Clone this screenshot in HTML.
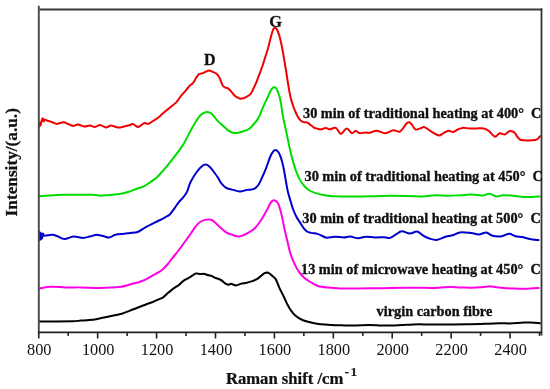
<!DOCTYPE html>
<html><head><meta charset="utf-8"><style>
html,body{margin:0;padding:0;background:#fff;}
svg{display:block;}
</style></head><body>
<svg width="550" height="389" viewBox="0 0 550 389">
<g fill="none" stroke-width="2" stroke-linejoin="round" stroke-linecap="round">
<path d="M39.2 126.5 C39.3 125.8 39.6 122.7 39.8 122.5 C40.0 122.3 40.2 125.7 40.5 125.5 C40.8 125.3 41.1 122.7 41.5 121.5 C41.9 120.3 42.3 118.5 42.6 118.3 C42.9 118.1 43.1 120.0 43.3 120.5 C43.5 121.0 43.6 121.5 43.9 121.3 C44.1 121.1 44.4 119.8 44.8 119.6 C45.2 119.4 45.4 119.9 46.3 120.2 C47.2 120.5 49.0 121.1 50.0 121.4 C51.0 121.8 51.4 121.9 52.5 122.3 C53.6 122.7 55.6 123.8 56.8 123.9 C58.0 124.0 58.7 123.3 59.9 123.0 C61.1 122.7 62.6 122.0 64.0 122.2 C65.3 122.4 66.5 123.4 68.0 124.0 C69.5 124.6 71.3 125.9 73.0 126.0 C74.7 126.1 76.2 124.3 78.0 124.4 C79.8 124.5 82.0 126.3 84.0 126.5 C86.0 126.7 88.2 125.5 90.0 125.6 C91.8 125.7 93.3 127.1 95.0 127.0 C96.7 126.9 98.2 124.9 100.0 125.0 C101.8 125.1 104.2 127.4 106.0 127.5 C107.8 127.6 109.0 125.5 111.0 125.5 C113.0 125.5 115.8 127.3 118.0 127.5 C120.2 127.7 122.0 126.9 124.0 126.5 C126.0 126.1 128.5 125.4 130.0 125.0 C131.5 124.6 131.7 123.7 133.0 124.0 C134.3 124.3 136.2 127.1 138.0 127.0 C139.8 126.9 142.2 123.8 143.9 123.2 C145.7 122.7 147.0 124.1 148.5 123.7 C150.0 123.3 151.5 122.0 153.0 121.0 C154.5 120.0 156.1 119.2 157.7 118.0 C159.2 116.8 160.8 115.3 162.3 114.0 C163.9 112.7 165.5 111.2 167.0 109.9 C168.5 108.7 169.9 107.7 171.3 106.5 C172.8 105.3 174.5 104.1 175.7 102.9 C176.9 101.7 177.6 100.7 178.5 99.5 C179.4 98.3 179.7 97.5 180.9 96.0 C182.1 94.5 184.0 92.5 185.5 90.8 C187.0 89.1 188.5 86.9 189.8 85.6 C191.1 84.3 192.0 84.3 193.1 82.9 C194.2 81.5 195.4 78.9 196.4 77.4 C197.4 76.0 198.0 74.9 199.1 74.2 C200.2 73.5 201.7 73.5 202.9 73.1 C204.1 72.6 205.1 71.9 206.2 71.5 C207.2 71.1 208.1 70.5 209.2 70.6 C210.3 70.6 211.4 71.2 212.7 71.8 C214.0 72.4 215.9 73.1 217.1 74.2 C218.3 75.3 218.9 76.7 219.8 78.5 C220.7 80.3 221.7 83.6 222.5 85.1 C223.3 86.6 223.8 86.8 224.7 87.3 C225.6 87.8 226.9 87.7 228.0 88.4 C229.1 89.1 230.2 90.4 231.3 91.6 C232.4 92.8 233.2 94.3 234.5 95.4 C235.8 96.5 237.7 97.7 238.9 98.2 C240.2 98.7 241.0 98.7 242.0 98.6 C243.0 98.5 243.6 98.3 245.0 97.6 C246.4 96.8 249.0 95.6 250.4 94.1 C251.8 92.6 252.5 90.6 253.5 88.5 C254.5 86.4 255.6 84.2 256.6 81.7 C257.6 79.2 258.7 76.2 259.7 73.5 C260.7 70.8 261.8 68.0 262.7 65.3 C263.6 62.5 264.4 59.8 265.3 57.0 C266.2 54.2 266.9 52.2 267.9 48.8 C268.8 45.4 270.2 39.5 271.0 36.5 C271.8 33.5 272.1 32.4 272.6 31.0 C273.1 29.6 273.5 28.4 274.1 28.0 C274.8 27.6 275.6 27.7 276.5 28.9 C277.4 30.1 278.4 33.0 279.2 35.2 C279.9 37.5 280.4 39.7 281.0 42.4 C281.6 45.1 282.2 48.3 282.8 51.4 C283.4 54.5 283.9 58.1 284.4 61.0 C284.9 63.9 285.2 65.6 285.8 69.0 C286.4 72.4 286.9 76.9 287.7 81.5 C288.5 86.1 289.4 92.5 290.4 96.7 C291.4 101.0 292.5 104.1 293.5 107.0 C294.5 109.9 295.6 112.1 296.6 114.2 C297.6 116.3 298.6 118.1 299.6 119.4 C300.6 120.7 301.5 121.3 302.7 121.8 C303.9 122.3 305.6 122.0 306.8 122.4 C308.0 122.9 308.7 123.6 309.9 124.5 C311.1 125.4 312.9 126.9 314.0 127.6 C315.1 128.2 315.1 128.1 316.3 128.4 C317.5 128.7 319.4 129.6 321.0 129.5 C322.6 129.4 324.2 127.9 325.7 127.9 C327.2 127.9 328.3 129.3 330.0 129.3 C331.7 129.3 334.0 127.0 335.8 127.8 C337.6 128.6 339.1 133.8 340.9 133.9 C342.7 134.0 344.9 128.5 346.7 128.4 C348.5 128.3 350.3 132.8 351.8 133.2 C353.3 133.6 354.2 131.0 355.5 131.0 C356.8 131.0 358.2 132.9 359.8 133.2 C361.4 133.4 363.2 132.6 364.9 132.5 C366.6 132.4 368.1 133.0 370.0 132.7 C371.9 132.4 373.9 130.6 376.5 130.7 C379.1 130.8 382.5 133.3 385.3 133.2 C388.1 133.1 390.9 130.6 393.3 130.3 C395.7 130.1 398.0 132.3 399.8 131.7 C401.6 131.1 403.0 128.0 404.2 126.6 C405.4 125.1 406.2 123.7 407.1 123.0 C408.0 122.3 408.5 122.0 409.3 122.3 C410.1 122.6 410.9 123.6 412.0 124.8 C413.1 126.0 414.2 128.9 415.6 129.5 C417.0 130.1 418.8 128.8 420.3 128.4 C421.8 128.0 422.8 126.6 424.7 127.2 C426.6 127.8 429.4 130.5 431.8 131.9 C434.2 133.3 436.9 135.3 438.9 135.5 C440.9 135.7 442.0 133.9 443.6 133.1 C445.2 132.3 446.8 130.9 448.4 130.7 C450.0 130.5 451.5 132.1 453.1 131.9 C454.7 131.7 456.2 130.2 457.8 129.5 C459.4 128.8 460.6 128.1 462.6 127.9 C464.6 127.7 467.2 128.3 469.6 128.4 C472.0 128.5 474.3 128.4 476.7 128.4 C479.1 128.4 481.8 128.0 483.8 128.4 C485.8 128.8 487.0 129.5 488.6 130.7 C490.2 131.9 492.1 134.5 493.3 135.5 C494.5 136.5 494.6 137.0 495.7 136.6 C496.8 136.2 498.2 133.7 499.7 133.3 C501.2 133.0 503.2 134.7 504.6 134.5 C506.0 134.3 507.0 132.6 508.0 132.0 C509.0 131.4 509.5 131.0 510.6 131.1 C511.7 131.2 513.2 131.6 514.4 132.6 C515.6 133.6 516.6 136.0 517.7 137.2 C518.8 138.4 519.2 139.5 521.0 140.0 C522.8 140.5 526.2 140.4 528.6 140.4 C531.0 140.4 533.6 140.3 535.2 140.0 C536.8 139.7 537.4 139.1 538.2 138.5 C539.0 137.9 539.7 136.6 540.0 136.2" stroke="#f00000"/>
<path d="M39.0 196.5 C39.5 196.4 40.5 196.2 42.3 196.0 C44.0 195.8 45.9 195.6 49.5 195.4 C53.1 195.2 59.2 194.9 64.1 194.8 C68.9 194.7 73.8 194.8 78.6 194.8 C83.4 194.8 89.5 194.7 93.2 194.8 C96.9 195.0 97.8 195.7 100.5 195.7 C103.2 195.7 106.1 195.2 109.5 194.9 C112.9 194.6 117.6 194.3 120.9 193.8 C124.2 193.3 126.6 192.5 129.1 191.7 C131.5 190.9 133.1 190.1 135.6 189.2 C138.1 188.3 141.4 187.5 143.8 186.3 C146.2 185.2 148.3 183.4 150.0 182.3 C151.7 181.2 152.5 180.7 153.9 179.6 C155.3 178.5 156.1 178.2 158.2 176.0 C160.3 173.8 163.8 170.0 166.5 166.7 C169.2 163.4 172.0 160.0 174.7 156.4 C177.4 152.8 180.3 149.2 182.9 145.1 C185.5 141.0 188.0 135.5 190.1 131.7 C192.2 127.9 193.6 125.2 195.3 122.5 C197.0 119.8 198.7 117.0 200.4 115.3 C202.1 113.6 203.9 112.6 205.6 112.2 C207.2 111.8 209.0 112.3 210.3 112.9 C211.6 113.5 212.3 114.7 213.4 115.9 C214.5 117.1 215.8 118.8 217.0 120.1 C218.2 121.4 219.3 122.5 220.6 123.7 C221.9 124.9 223.3 126.1 224.7 127.3 C226.1 128.5 227.4 130.0 228.8 130.9 C230.2 131.8 231.5 132.4 232.9 132.7 C234.3 133.0 235.3 133.1 237.0 132.9 C238.7 132.7 241.8 131.8 243.2 131.4 C244.6 131.0 244.4 130.9 245.3 130.6 C246.2 130.2 247.4 130.0 248.4 129.3 C249.4 128.7 250.5 127.7 251.5 126.7 C252.5 125.7 253.6 124.2 254.5 123.1 C255.4 122.0 256.2 121.4 257.1 120.1 C258.0 118.8 258.9 117.2 259.7 115.4 C260.5 113.6 261.3 111.3 262.2 109.3 C263.1 107.2 264.1 104.7 264.8 103.1 C265.5 101.5 265.8 101.1 266.6 99.5 C267.4 97.9 268.5 95.2 269.4 93.4 C270.3 91.6 271.2 89.7 272.0 88.7 C272.8 87.7 273.3 87.3 274.0 87.2 C274.7 87.1 275.4 87.4 276.1 88.2 C276.8 89.0 277.5 90.8 278.1 92.3 C278.7 93.8 279.2 95.4 279.7 97.5 C280.2 99.6 280.7 101.8 281.2 104.7 C281.7 107.6 282.0 111.2 282.7 115.0 C283.4 118.8 284.4 123.2 285.3 127.3 C286.2 131.4 287.1 135.9 287.9 139.7 C288.7 143.5 289.3 146.6 290.1 150.0 C290.9 153.4 291.7 156.9 292.7 160.3 C293.7 163.7 294.7 167.4 295.9 170.6 C297.1 173.8 298.4 177.0 299.8 179.6 C301.2 182.2 302.7 184.2 304.3 186.0 C305.9 187.8 307.5 189.3 309.4 190.5 C311.3 191.7 313.2 192.3 315.8 193.1 C318.4 193.9 322.1 194.8 325.0 195.3 C327.9 195.8 327.8 196.0 333.0 196.2 C338.2 196.4 348.3 196.4 356.4 196.4 C364.5 196.4 373.3 196.0 381.8 195.9 C390.3 195.8 400.5 195.9 407.3 196.0 C414.1 196.1 418.0 196.6 422.7 196.5 C427.4 196.4 431.1 195.3 435.4 195.2 C439.6 195.1 443.9 195.8 448.2 195.8 C452.4 195.8 457.3 195.4 460.9 195.2 C464.5 195.0 467.3 194.6 470.0 194.6 C472.7 194.6 475.1 194.9 477.3 195.0 C479.5 195.1 481.1 195.6 483.1 195.4 C485.2 195.2 487.4 193.5 489.6 193.7 C491.8 193.9 494.0 196.1 496.2 196.4 C498.4 196.7 500.2 195.5 502.7 195.3 C505.2 195.2 507.4 195.2 511.0 195.5 C514.6 195.8 521.0 196.8 524.5 197.0 C528.0 197.2 529.6 197.1 532.1 197.0 C534.6 196.9 538.5 196.5 539.8 196.4" stroke="#00dc00"/>
<path d="M38.9 231.5 C39.0 232.9 39.1 239.8 39.3 240.0 C39.5 240.2 39.8 232.6 40.0 232.5 C40.2 232.4 40.4 239.3 40.6 239.5 C40.8 239.7 41.1 233.7 41.3 233.5 C41.5 233.3 41.7 238.3 41.9 238.5 C42.1 238.7 42.4 235.3 42.6 234.5 C42.8 233.7 43.0 233.4 43.2 233.6 C43.4 233.8 43.5 235.3 44.0 235.6 C44.5 235.9 44.9 235.5 46.3 235.4 C47.7 235.3 50.6 234.7 52.5 234.8 C54.4 235.0 55.5 235.6 57.5 236.3 C59.5 237.0 61.7 239.1 64.4 239.1 C67.1 239.1 70.5 236.8 73.6 236.6 C76.7 236.4 80.1 237.9 82.9 237.9 C85.7 237.9 88.3 236.8 90.6 236.3 C92.9 235.8 94.7 234.9 96.8 234.8 C98.9 234.8 100.9 235.6 103.0 236.0 C105.1 236.4 107.1 237.7 109.2 237.5 C111.3 237.3 112.8 235.4 115.4 234.8 C118.0 234.2 122.2 234.1 124.6 233.8 C127.0 233.5 127.8 233.2 130.0 232.9 C132.2 232.6 135.1 232.9 137.7 232.0 C140.3 231.1 142.4 229.0 145.4 227.3 C148.4 225.7 152.5 223.7 155.7 222.1 C158.9 220.5 162.3 218.9 164.7 217.6 C167.0 216.3 168.2 215.9 169.8 214.4 C171.4 212.9 172.8 210.6 174.3 208.6 C175.8 206.6 177.2 204.2 178.8 202.2 C180.4 200.2 182.6 198.2 184.0 196.4 C185.4 194.6 186.1 193.7 187.2 191.3 C188.3 188.9 189.0 185.2 190.6 182.0 C192.2 178.8 194.8 174.6 196.7 172.0 C198.6 169.4 200.4 167.4 201.9 166.2 C203.4 165.0 204.2 164.6 205.4 164.6 C206.6 164.6 207.8 165.1 209.1 166.2 C210.4 167.3 211.7 169.0 213.2 171.0 C214.7 173.0 217.1 176.2 218.3 178.1 C219.5 180.0 219.4 180.8 220.6 182.4 C221.8 184.0 223.8 186.4 225.7 187.6 C227.6 188.8 229.8 189.0 232.1 189.6 C234.4 190.2 237.4 191.3 239.8 191.4 C242.2 191.5 244.6 190.4 246.3 190.1 C248.0 189.8 248.6 189.9 250.0 189.7 C251.4 189.4 253.2 189.4 254.6 188.6 C256.0 187.8 257.2 186.7 258.5 184.8 C259.8 182.9 261.0 179.8 262.3 177.0 C263.6 174.2 264.9 171.1 266.2 167.8 C267.5 164.5 269.0 159.7 270.1 157.0 C271.2 154.3 272.2 152.8 273.1 151.6 C274.0 150.4 274.6 149.9 275.5 150.0 C276.4 150.1 277.6 151.0 278.5 152.3 C279.4 153.6 280.1 155.4 280.9 157.7 C281.7 160.0 282.4 162.7 283.2 166.2 C284.0 169.7 284.8 174.6 285.5 178.6 C286.2 182.6 286.8 186.7 287.5 190.0 C288.2 193.3 288.9 195.5 289.8 198.6 C290.7 201.7 291.7 205.5 292.8 208.5 C293.9 211.5 295.1 214.3 296.4 216.7 C297.6 219.1 299.1 221.0 300.3 222.9 C301.5 224.8 302.7 226.9 303.8 228.3 C304.9 229.7 305.7 230.7 307.0 231.5 C308.3 232.3 309.9 232.5 311.6 232.9 C313.4 233.3 315.8 233.4 317.5 233.9 C319.2 234.4 320.2 235.2 321.8 235.8 C323.4 236.4 324.7 237.5 326.9 237.7 C329.1 237.8 332.1 236.8 334.9 236.7 C337.7 236.6 341.1 237.4 343.6 237.4 C346.2 237.4 347.8 236.3 350.2 236.5 C352.6 236.7 355.6 238.3 358.2 238.3 C360.8 238.3 362.7 236.8 365.5 236.7 C368.3 236.5 371.8 237.3 375.0 237.4 C378.2 237.5 382.1 237.2 384.6 237.3 C387.1 237.4 388.3 238.4 390.2 237.9 C392.1 237.4 394.1 235.5 396.0 234.4 C397.9 233.3 399.5 231.3 401.8 231.2 C404.1 231.0 407.2 233.4 409.8 233.5 C412.4 233.6 414.8 231.2 417.1 231.6 C419.4 232.0 421.5 234.7 423.6 235.8 C425.7 237.0 427.3 237.8 429.5 238.5 C431.7 239.2 434.0 240.2 436.7 239.9 C439.4 239.6 442.8 237.5 445.5 236.7 C448.2 235.9 450.3 236.0 452.7 235.3 C455.1 234.6 456.9 232.8 460.0 232.4 C463.1 232.0 468.0 232.7 471.1 233.0 C474.2 233.3 476.2 234.6 478.7 234.5 C481.2 234.4 484.0 232.3 486.3 232.5 C488.6 232.7 490.1 235.2 492.7 235.8 C495.2 236.4 498.9 236.6 501.6 236.3 C504.4 236.0 506.9 233.8 509.2 233.8 C511.5 233.8 513.5 235.8 515.6 236.3 C517.7 236.9 519.7 236.7 522.0 237.1 C524.3 237.5 526.9 238.4 529.6 238.9 C532.4 239.4 537.0 239.9 538.5 240.1" stroke="#0000cd"/>
<path d="M39.6 288.3 C41.4 288.1 46.1 287.0 50.5 286.8 C54.9 286.6 60.8 287.3 65.9 287.4 C71.1 287.5 76.2 287.3 81.4 287.4 C86.6 287.5 91.7 288.0 96.8 288.0 C101.9 288.0 108.2 287.6 112.3 287.4 C116.4 287.2 118.5 287.3 121.6 286.8 C124.7 286.3 127.7 285.2 130.8 284.3 C133.9 283.4 137.4 282.6 140.0 281.7 C142.6 280.8 144.2 280.2 146.4 279.1 C148.6 278.0 151.0 276.4 152.9 275.3 C154.8 274.2 156.3 273.8 158.0 272.7 C159.7 271.6 161.6 270.2 163.1 268.9 C164.6 267.6 165.5 266.8 167.0 265.0 C168.5 263.2 170.4 260.6 172.3 258.2 C174.2 255.8 176.4 253.2 178.5 250.5 C180.6 247.8 182.6 244.8 184.7 242.0 C186.8 239.2 189.1 236.1 190.9 233.5 C192.7 230.9 194.0 228.5 195.5 226.6 C197.0 224.7 198.5 223.1 200.1 222.0 C201.7 220.9 203.2 220.3 204.8 219.9 C206.5 219.5 208.6 219.5 210.0 219.6 C211.4 219.7 211.6 219.6 213.0 220.6 C214.4 221.6 216.1 223.6 218.2 225.5 C220.3 227.4 223.6 230.6 225.8 232.1 C228.0 233.6 229.3 233.8 231.5 234.5 C233.7 235.2 236.2 236.7 238.9 236.5 C241.6 236.3 244.9 234.7 247.6 233.2 C250.3 231.7 252.9 230.1 255.3 227.7 C257.7 225.3 259.8 222.1 261.8 219.0 C263.8 215.9 265.7 212.1 267.3 209.2 C268.9 206.3 270.3 202.9 271.6 201.5 C272.9 200.1 273.8 200.1 274.9 200.5 C276.0 200.9 277.1 201.3 278.2 203.7 C279.3 206.0 280.4 210.2 281.5 214.6 C282.6 219.0 283.7 225.5 284.7 229.9 C285.7 234.3 286.4 236.9 287.3 240.8 C288.2 244.7 289.2 249.4 290.3 253.1 C291.4 256.8 292.8 260.1 294.2 263.2 C295.6 266.3 297.1 269.3 298.8 271.7 C300.5 274.1 302.1 276.0 304.2 277.8 C306.3 279.6 308.9 281.1 311.2 282.5 C313.5 283.9 315.2 285.1 318.0 286.0 C320.8 286.9 324.3 287.2 328.0 287.6 C331.7 288.0 335.3 288.3 340.0 288.4 C344.7 288.5 349.3 288.4 356.3 288.4 C363.3 288.4 373.3 288.3 381.8 288.2 C390.3 288.1 400.8 287.8 407.2 287.7 C413.6 287.6 416.2 287.6 420.0 287.7 C423.8 287.8 426.7 288.0 430.0 288.0 C433.3 288.0 436.5 287.8 440.0 287.6 C443.5 287.4 447.4 286.9 450.9 286.9 C454.4 286.9 457.5 287.3 461.0 287.4 C464.5 287.5 468.3 287.7 471.8 287.7 C475.3 287.7 479.0 287.4 482.0 287.2 C485.0 287.0 487.3 286.3 489.6 286.3 C491.9 286.3 493.7 287.0 496.0 287.3 C498.3 287.6 500.5 287.8 503.2 288.0 C505.9 288.2 508.9 288.4 512.0 288.5 C515.1 288.6 519.0 288.8 522.0 288.8 C525.0 288.8 527.2 288.6 530.0 288.5 C532.8 288.4 537.3 288.1 538.8 288.0" stroke="#ff00e6"/>
<path d="M39.0 321.5 C40.5 321.5 45.1 321.4 48.0 321.4 C50.9 321.4 52.3 321.4 56.4 321.4 C60.5 321.4 68.6 321.4 72.7 321.3 C76.8 321.2 78.2 320.8 80.9 320.6 C83.6 320.4 86.4 320.4 89.1 320.1 C91.8 319.8 94.6 319.4 97.3 318.9 C100.0 318.4 102.8 317.9 105.5 317.3 C108.2 316.8 110.9 316.2 113.6 315.6 C116.3 315.0 119.1 314.6 121.8 313.8 C124.5 313.0 127.0 311.8 130.0 310.6 C133.0 309.4 137.3 307.9 140.0 306.8 C142.7 305.7 144.2 305.0 146.4 304.2 C148.6 303.4 151.0 302.8 152.9 302.0 C154.8 301.2 156.3 300.5 158.0 299.7 C159.7 298.9 161.5 298.5 163.1 297.4 C164.7 296.3 165.8 294.9 167.6 293.3 C169.4 291.8 172.3 289.4 174.1 288.1 C175.9 286.8 177.1 286.5 178.6 285.3 C180.1 284.1 181.4 282.3 183.1 281.1 C184.8 279.9 187.2 278.9 188.8 277.9 C190.4 276.9 191.5 276.1 192.7 275.3 C193.9 274.6 194.7 273.6 195.9 273.4 C197.2 273.2 198.8 273.9 200.2 274.0 C201.6 274.1 203.0 273.7 204.4 273.9 C205.8 274.1 207.3 275.0 208.5 275.3 C209.7 275.6 210.6 275.5 211.6 275.9 C212.6 276.3 213.1 276.9 214.7 277.6 C216.2 278.3 219.2 279.1 220.9 280.0 C222.6 280.9 223.8 282.5 225.0 283.3 C226.2 284.1 227.3 284.6 228.3 284.7 C229.3 284.8 229.7 283.7 231.0 283.8 C232.3 283.9 234.2 285.4 235.9 285.4 C237.6 285.4 239.6 284.1 241.4 283.6 C243.2 283.2 245.0 283.1 246.8 282.7 C248.6 282.3 250.5 281.8 252.3 281.1 C254.1 280.4 256.1 279.6 257.7 278.6 C259.3 277.6 261.0 275.8 262.1 274.9 C263.2 274.0 263.8 273.6 264.6 273.2 C265.4 272.8 266.2 272.6 267.0 272.6 C267.8 272.7 268.7 273.0 269.5 273.5 C270.3 274.0 270.9 274.8 271.9 275.6 C272.8 276.4 274.3 277.2 275.2 278.4 C276.1 279.6 276.6 281.1 277.3 282.7 C278.0 284.3 278.8 286.6 279.5 288.2 C280.2 289.8 280.9 290.9 281.7 292.5 C282.5 294.1 283.5 296.2 284.4 298.0 C285.3 299.8 285.9 301.6 286.9 303.5 C287.9 305.4 288.8 307.3 290.2 309.3 C291.6 311.3 293.2 313.8 295.3 315.6 C297.4 317.4 299.9 319.1 302.9 320.3 C305.9 321.5 310.1 322.3 313.1 323.0 C316.1 323.7 317.7 324.0 320.7 324.3 C323.7 324.6 327.1 324.8 330.9 325.0 C334.7 325.2 339.4 325.3 343.6 325.4 C347.8 325.5 352.1 325.5 356.3 325.4 C360.6 325.3 364.9 325.0 369.1 325.0 C373.4 325.0 377.6 325.4 381.8 325.5 C386.0 325.6 390.3 325.5 394.5 325.4 C398.7 325.3 402.9 325.0 407.2 324.8 C411.4 324.6 416.2 324.3 420.0 324.3 C423.8 324.3 424.5 324.6 430.0 324.6 C435.5 324.6 446.2 324.5 452.9 324.4 C459.6 324.3 464.6 324.3 470.0 324.2 C475.4 324.1 480.0 323.9 485.0 323.8 C490.0 323.7 495.8 323.4 500.0 323.3 C504.2 323.2 506.0 323.5 510.0 323.4 C514.0 323.3 520.5 322.7 524.0 322.6 C527.5 322.5 528.1 322.5 530.8 322.6 C533.5 322.7 538.5 323.1 540.0 323.2" stroke="#000"/>
</g>
<g fill="none">
<path d="M38.8 5.8V333.2" stroke="#484848" stroke-width="1.9"/>
<path d="M39.5 9.5H542.3" stroke="#383838" stroke-width="1.8"/>
<path d="M541.5 8.5V335.5" stroke="#333" stroke-width="1.8"/>
<path d="M38 332.3H542" stroke="#222" stroke-width="1.8"/>
</g>
<g stroke="#222" stroke-width="1.6" fill="none">
<line x1="38.75" y1="332.3" x2="38.75" y2="338.5"/><line x1="68.21" y1="332.3" x2="68.21" y2="335.9"/><line x1="97.66" y1="332.3" x2="97.66" y2="338.5"/><line x1="127.12" y1="332.3" x2="127.12" y2="335.9"/><line x1="156.57" y1="332.3" x2="156.57" y2="338.5"/><line x1="186.03" y1="332.3" x2="186.03" y2="335.9"/><line x1="215.49" y1="332.3" x2="215.49" y2="338.5"/><line x1="244.94" y1="332.3" x2="244.94" y2="335.9"/><line x1="274.40" y1="332.3" x2="274.40" y2="338.5"/><line x1="303.85" y1="332.3" x2="303.85" y2="335.9"/><line x1="333.31" y1="332.3" x2="333.31" y2="338.5"/><line x1="362.77" y1="332.3" x2="362.77" y2="335.9"/><line x1="392.22" y1="332.3" x2="392.22" y2="338.5"/><line x1="421.68" y1="332.3" x2="421.68" y2="335.9"/><line x1="451.13" y1="332.3" x2="451.13" y2="338.5"/><line x1="480.59" y1="332.3" x2="480.59" y2="335.9"/><line x1="510.05" y1="332.3" x2="510.05" y2="338.5"/><line x1="539.50" y1="332.3" x2="539.50" y2="335.9"/>
</g>
<g font-family="'Liberation Serif', serif" font-size="16.3" text-anchor="middle" fill="#111">
<text x="39.25" y="355.3">800</text><text x="98.16" y="355.3">1000</text><text x="157.07" y="355.3">1200</text><text x="215.99" y="355.3">1400</text><text x="274.90" y="355.3">1600</text><text x="333.81" y="355.3">1800</text><text x="392.72" y="355.3">2000</text><text x="451.63" y="355.3">2200</text><text x="510.55" y="355.3">2400</text>
</g>
<g font-family="'Liberation Serif', serif" font-weight="bold" fill="#111">
<text x="209.7" y="64.6" font-size="16" text-anchor="middle" stroke="#111" stroke-width="0.3">D</text>
<text transform="translate(275.6,26.9) scale(1,1.08)" font-size="16.4" text-anchor="middle" stroke="#111" stroke-width="0.3">G</text>
<g font-size="14.3" stroke="#111" stroke-width="0.35">
<text x="303" y="118">30 min of traditional heating at 400°&#160; C</text>
<text x="304.5" y="181">30 min of traditional heating at 450°&#160; C</text>
<text x="302.3" y="223.3">30 min of traditional heating at 500°&#160; C</text>
<text x="301" y="273.5">13 min of microwave heating at 450°&#160; C</text>
<text x="376.6" y="316.1">virgin carbon fibre</text>
</g>
<text transform="translate(225.9,384) scale(1,0.97)" font-size="16.65" stroke="#111" stroke-width="0.25">Raman shift /cm<tspan font-size="12.5" dx="1.6" dy="-8.4">-</tspan><tspan font-size="12.5" dx="1.8">1</tspan></text>
<text transform="translate(17,216.4) rotate(-90)" font-size="17.25" stroke="#111" stroke-width="0.25">Intensity/(a.u.)</text>
</g>
</svg>
</body></html>
